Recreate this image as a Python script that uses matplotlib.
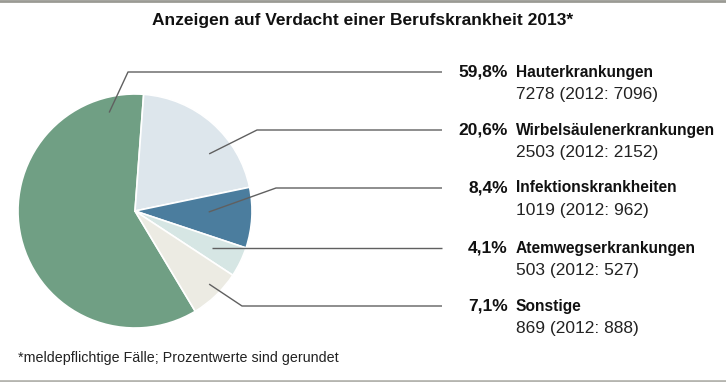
import matplotlib
matplotlib.use('Agg')
import matplotlib.pyplot as plt
import numpy as np

# Anzeigen 2013 (Fälle), Vorjahr 2012
categories = ['Hauterkrankungen', 'Wirbelsäulenerkrankungen', 'Infektionskrankheiten',
              'Atemwegserkrankungen', 'Sonstige']
cases_2013 = [7278, 2503, 1019, 503, 869]
cases_2012 = [7096, 2152, 962, 527, 888]
percent_labels = ['59,8%', '20,6%', '8,4%', '4,1%', '7,1%']
colors = ['#709f84', '#dde6ec', '#4b7d9e', '#d6e6e4', '#ecebe3']

W, H = 726, 382
FONT = 'Liberation Sans'

fig = plt.figure(figsize=(W / 100, H / 100), dpi=100)
ax = fig.add_axes([0, 0, 1, 1])

cx, cy, r = 135, H - 211, 117
wedges, _ = ax.pie(cases_2013, colors=colors, startangle=-59, counterclock=False,
                   center=(cx, cy), radius=r,
                   wedgeprops=dict(edgecolor='white', linewidth=1.2))
ax.set_xlim(0, W)
ax.set_ylim(0, H)
ax.set_aspect('equal')
ax.axis('off')

# leader lines: start point inside wedge (angle, fraction of radius), elbow x
anchor_ang = [104.7, 37.6, -0.8, -25.7, -44.6]
anchor_r = [0.87, 0.8, 0.63, 0.73, 0.89]
elbow_x = [128, 257, 276, None, 242]
row_y = [72, 130, 188, 248, 306]
line_end = 442

for i, name in enumerate(categories):
    a = np.deg2rad(anchor_ang[i])
    x0 = cx + anchor_r[i] * r * np.cos(a)
    y0 = cy + anchor_r[i] * r * np.sin(a)
    yl = H - row_y[i]
    if elbow_x[i] is None:
        xs, ys = [x0, line_end], [yl, yl]
    else:
        xs, ys = [x0, elbow_x[i], line_end], [y0, yl, yl]
    ax.plot(xs, ys, color='#606060', lw=1, solid_capstyle='butt')

    ax.text(508, yl, percent_labels[i], ha='right', va='center', fontsize=12.5,
            fontweight='bold', family=FONT, color='#111111')
    ax.text(516, yl, name, ha='left', va='center', fontsize=11.2,
            fontweight='bold', family=FONT, color='#111111')
    ax.text(516, yl - 22, '%d (2012: %d)' % (cases_2013[i], cases_2012[i]),
            ha='left', va='center', fontsize=12.5, family=FONT, color='#222222')

ax.text(W / 2, H - 21, 'Anzeigen auf Verdacht einer Berufskrankheit 2013*',
        ha='center', va='center', fontsize=12.5, fontweight='bold', family=FONT,
        color='#111111')
ax.text(18, H - 358, '*meldepflichtige Fälle; Prozentwerte sind gerundet',
        ha='left', va='center', fontsize=10.3, family=FONT, color='#222222')

ax.axhline(H - 0.8, color='#9a9a94', lw=2)
ax.axhline(1.2, color='#b5b5b0', lw=2)

fig.savefig('out.png', dpi=100)
